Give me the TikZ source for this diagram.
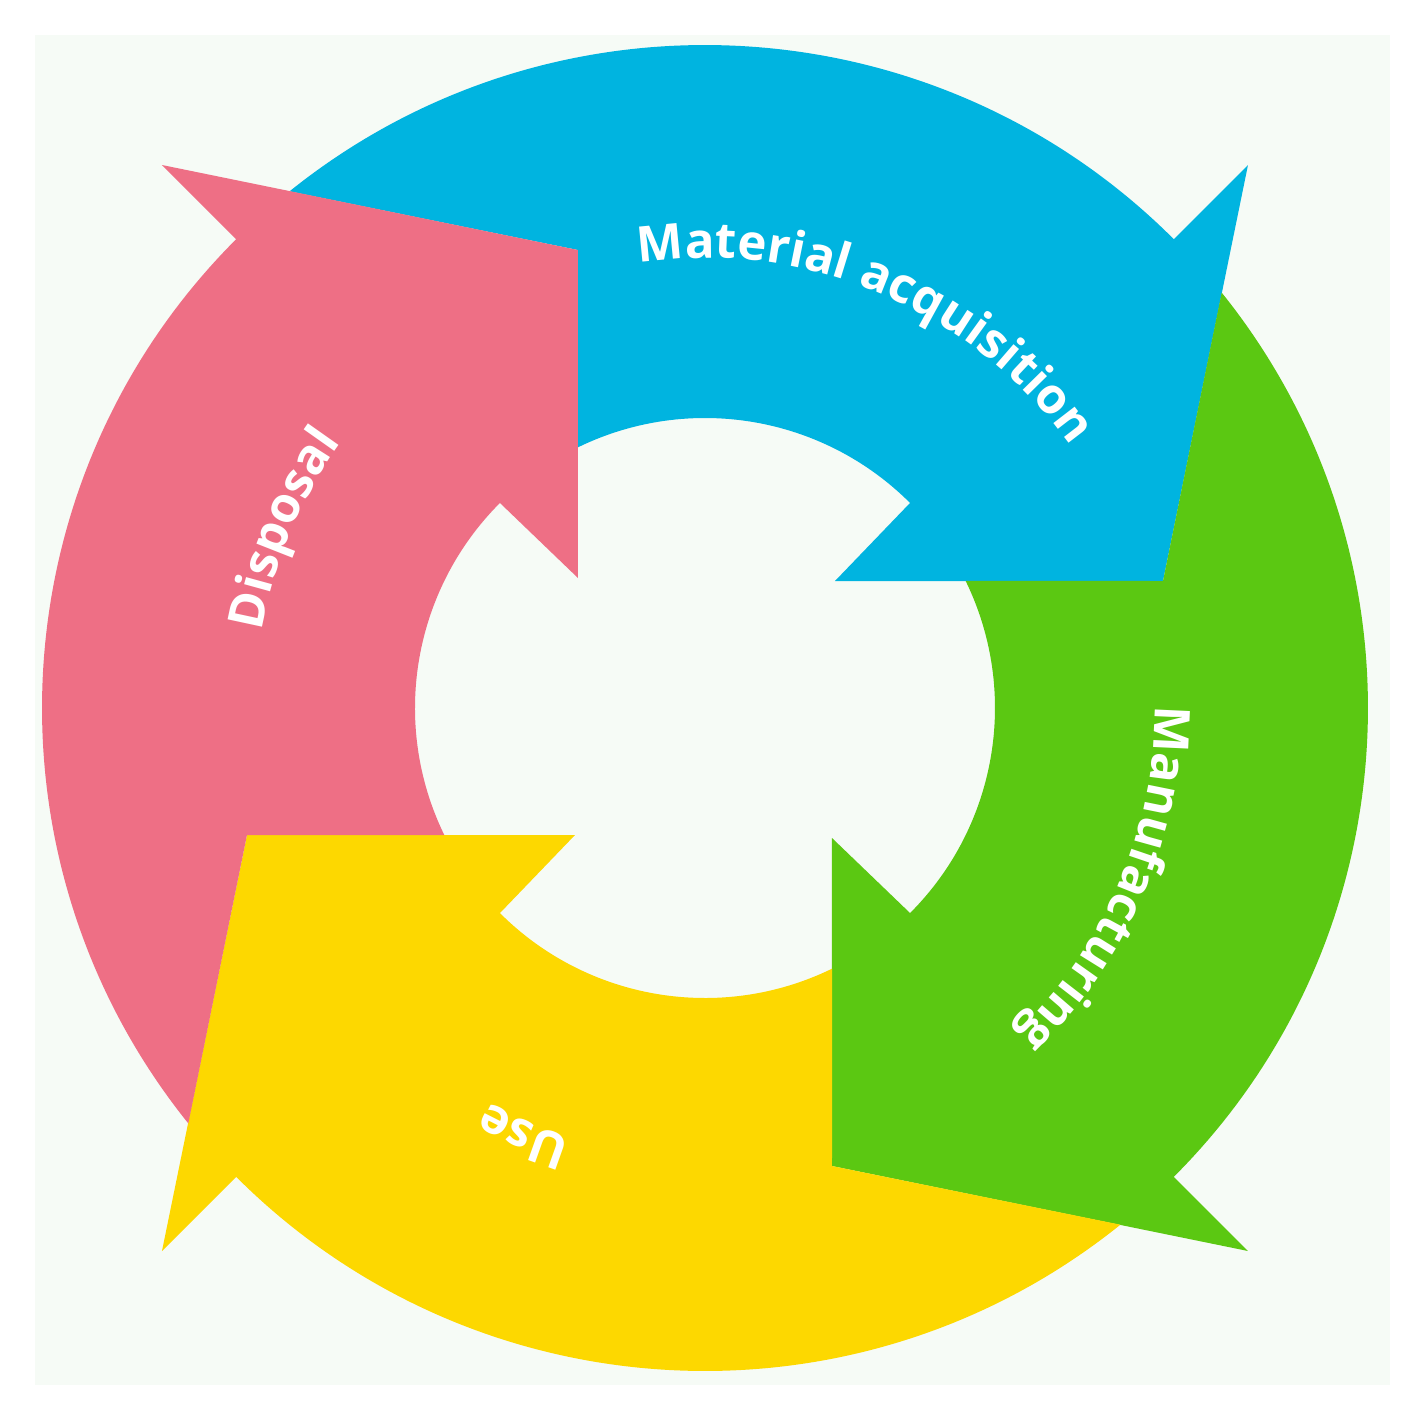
\documentclass[tikz,border=0pt]{standalone}
\usepackage{fontspec}
\setmainfont{Open Sans}
\usetikzlibrary{decorations.text}
\definecolor{cblue}{HTML}{00B4E0}
\definecolor{cgreen}{HTML}{5BC812}
\definecolor{cyellow}{HTML}{FDD800}
\definecolor{cpink}{HTML}{EE6F85}
\definecolor{bgc}{HTML}{F6FBF6}
\newcommand\labfont{\fontsize{14}{14}\selectfont\bfseries}
\tikzset{
  pics/cyclearrow/.style args={#1/#2}{code={
    \fill[#1] (-127,458) -- (116:290) arc[start angle=116,end angle=45,radius=290]
      -- (130,127) -- (458,127) -- (543,543) -- (45:663)
      arc[start angle=45,end angle=128.8,radius=663] -- cycle;
    \path[decorate,decoration={text along path,text align=center,text color=white,
      text={|\labfont|#2}}] (117:450) arc[start angle=117,end angle=17,radius=450];
  }}
}
\begin{document}
\begin{tikzpicture}[x=0.01cm,y=0.01cm]
\useasboundingbox (-705,-718) rectangle (704,708);
\fill[white] (-705,-718) rectangle (704,708);
\fill[bgc] (-670,-677) rectangle (685,673);
\pic (blue) {cyclearrow={cblue/Material acquisition}};
\pic[rotate=-90] (green) {cyclearrow={cgreen/Manufacturing}};
\pic[rotate=-180] (yellow) {cyclearrow={cyellow/Use}};
\pic[rotate=-270] (pink) {cyclearrow={cpink/Disposal}};
\end{tikzpicture}
\end{document}
